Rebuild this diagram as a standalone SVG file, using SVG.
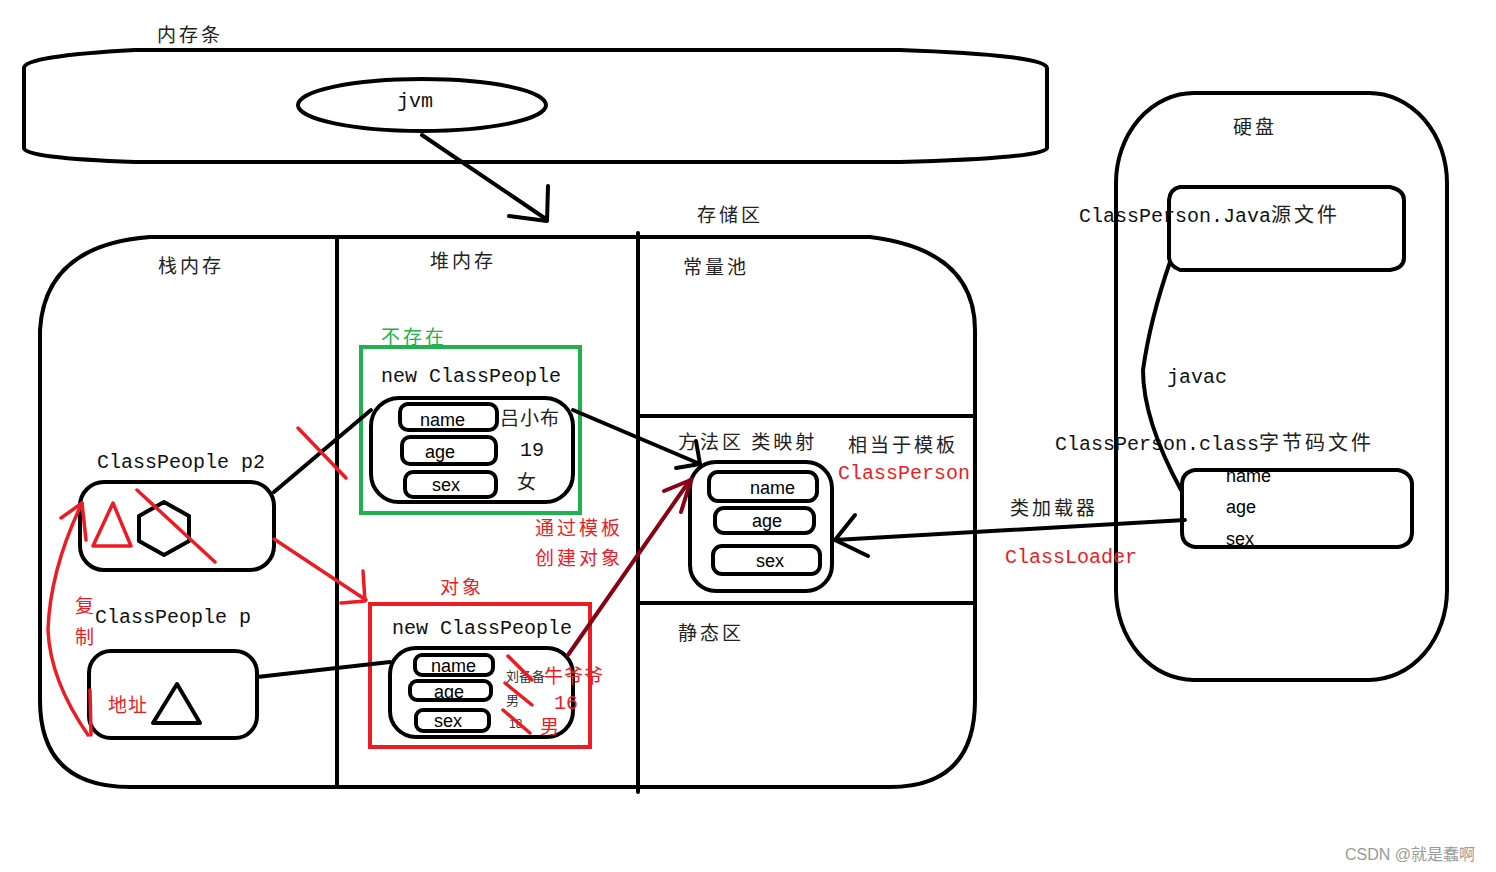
<svg xmlns="http://www.w3.org/2000/svg" width="1496" height="872" viewBox="0 0 1496 872">
<style>
.s{fill:none;stroke:#000;stroke-width:4;stroke-linecap:round;stroke-linejoin:round}
.r{fill:none;stroke:#ed1c24;stroke-width:3.5;stroke-linecap:round;stroke-linejoin:round}
.dr{fill:none;stroke:#880015;stroke-width:4;stroke-linecap:round}
.cn{font-family:"Noto Sans CJK SC","Liberation Serif",serif;font-size:19px;fill:#222;letter-spacing:3px}
.mo{font-family:"Liberation Mono","DejaVu Sans Mono",monospace;font-size:20px;fill:#111}
.sa{font-family:"Liberation Sans",Arial,sans-serif;font-size:18px;fill:#000}
.red{fill:#ed1c24}
</style>
<rect width="1496" height="872" fill="#fff"/>
<g id="memory-bar">
<path class="s" d="M135,50 L900,50 Q1045,55 1047,68 L1047,148 Q1045,158 900,162 L135,162 Q24,158 24,148 L24,68 Q24,56 135,50 Z"/>
<text class="cn" x="157" y="42">内存条</text>
</g>
<g id="jvm">
<ellipse class="s" cx="422" cy="105" rx="124" ry="26"/>
<text class="mo" x="397" y="107" font-size="18">jvm</text>
</g>
<g id="storage">
<path class="s" d="M150,237 L870,237 Q975,250 975,330 L975,700 Q975,787 890,787 L130,787 Q40,787 40,700 L40,330 Q45,245 150,237 Z"/>
<line class="s" x1="337" y1="237" x2="337" y2="787"/>
<line class="s" x1="638" y1="233" x2="638" y2="792"/>
<line class="s" x1="638" y1="416" x2="975" y2="416"/>
<line class="s" x1="638" y1="603" x2="975" y2="603"/>
<text class="cn" x="697" y="222">存储区</text>
<text class="cn" x="158" y="273">栈内存</text>
<text class="cn" x="430" y="268">堆内存</text>
<text class="cn" x="683" y="274">常量池</text>
<text class="cn" x="678" y="449">方法区 类映射</text>
<text class="cn" x="848" y="452">相当于模板</text>
<text class="mo red" x="838" y="479">ClassPerson</text>
<text class="cn" x="678" y="640">静态区</text>
</g>
<g id="heap-green">
<rect x="361" y="347" width="219" height="166" fill="none" stroke="#22b14c" stroke-width="4"/>
<text class="cn" x="381" y="344" style="fill:#22b14c">不存在</text>
<text class="mo" x="381" y="382">new ClassPeople</text>
<rect class="s" x="371" y="398" width="202" height="104" rx="28"/>
<rect class="s" x="400" y="404" width="97" height="26" rx="8"/>
<rect class="s" x="402" y="437" width="94" height="27" rx="8"/>
<rect class="s" x="405" y="472" width="91" height="25" rx="8"/>
<text class="sa" x="420" y="426">name</text>
<text class="sa" x="425" y="458">age</text>
<text class="sa" x="432" y="491">sex</text>
<text class="cn" x="500" y="425" style="letter-spacing:1px">吕小布</text>
<text class="mo" x="520" y="456">19</text>
<text class="cn" x="517" y="489">女</text>
</g>
<g id="heap-red">
<rect x="370" y="604" width="220" height="143" fill="none" stroke="#ed1c24" stroke-width="4"/>
<text class="cn red" x="440" y="594">对象</text>
<text class="mo" x="392" y="634">new ClassPeople</text>
<rect class="s" x="390" y="648" width="183" height="89" rx="26"/>
<rect class="s" x="415" y="655" width="78" height="20" rx="7"/>
<rect class="s" x="410" y="681" width="81" height="19" rx="7"/>
<rect class="s" x="416" y="710" width="73" height="21" rx="7"/>
<text class="sa" x="431" y="672" fill="#880015">name</text>
<text class="sa" x="434" y="698" fill="#880015">age</text>
<text class="sa" x="434" y="727" fill="#880015">sex</text>
<text x="506" y="681" font-family="Noto Sans CJK SC,sans-serif" font-size="13" fill="#333">刘备备</text>
<text x="506" y="705" font-family="Noto Sans CJK SC,sans-serif" font-size="13" fill="#333">男</text>
<text x="509" y="728" font-family="Liberation Sans,sans-serif" font-size="12" fill="#333">18</text>
<line class="r" x1="508" y1="656" x2="532" y2="680"/>
<line class="r" x1="505" y1="683" x2="532" y2="705"/>
<line class="r" x1="503" y1="710" x2="530" y2="733"/>
<text class="cn red" x="544" y="683" style="letter-spacing:1px">牛爷爷</text>
<text class="mo red" x="554" y="709">16</text>
<text class="cn red" x="540" y="734">男</text>
</g>
<g id="template-note">
<text class="cn red" x="535" y="535">通过模板</text>
<text class="cn red" x="535" y="565">创建对象</text>
</g>
<g id="p2">
<text class="mo" x="97" y="468">ClassPeople p2</text>
<rect class="s" x="80" y="482" width="194" height="88" rx="24"/>
<polygon class="r" points="93,546 113,503 131,546"/>
<polygon class="s" points="164,502 189,516 189,541 164,555 139,541 139,516"/>
<line class="r" x1="137" y1="490" x2="215" y2="562"/>
</g>
<g id="p">
<text class="mo" x="95" y="623">ClassPeople p</text>
<rect class="s" x="89" y="651" width="168" height="87" rx="22"/>
<polygon class="s" points="153,723 177,684 200,723"/>
<text class="cn red" x="108" y="712" style="letter-spacing:1px">地址</text>
<text class="cn red" x="75" y="613">复</text>
<text class="cn red" x="75" y="644">制</text>
</g>
<g id="method-area-class">
<rect class="s" x="690" y="462" width="142" height="129" rx="26"/>
<rect class="s" x="709" y="472" width="108" height="29" rx="9"/>
<rect class="s" x="715" y="508" width="99" height="25" rx="9"/>
<rect class="s" x="713" y="546" width="107" height="28" rx="9"/>
<text class="sa" x="750" y="494">name</text>
<text class="sa" x="752" y="527">age</text>
<text class="sa" x="756" y="567">sex</text>
</g>
<g id="disk">
<rect class="s" x="1116" y="93" width="331" height="587" rx="78" ry="90"/>
<text class="cn" x="1233" y="134">硬盘</text>
<path class="s" d="M1180,187 L1390,187 Q1404,190 1404,200 L1404,258 Q1404,268 1390,270 L1180,270 Q1170,266 1169,258 L1169,200 Q1170,189 1180,187 Z"/>
<text class="mo" x="1079" y="222">ClassPerson.Java<tspan class="cn" style="font-size:20px">源文件</tspan></text>
<text class="mo" x="1167" y="383">javac</text>
<text class="mo" x="1055" y="450">ClassPerson.class<tspan class="cn" style="font-size:20px">字节码文件</tspan></text>
<path class="s" d="M1195,470 L1398,470 Q1412,473 1412,485 L1412,532 Q1412,545 1398,547 L1195,547 Q1182,545 1182,532 L1182,485 Q1182,472 1195,470 Z"/>
<text class="sa" x="1226" y="482">name</text>
<text class="sa" x="1226" y="513">age</text>
<text class="sa" x="1226" y="545">sex</text>
<text class="cn" x="1010" y="515">类加载器</text>
<text class="mo red" x="1005" y="563">ClassLoader</text>
</g>
<g id="connectors">
<line class="s" x1="422" y1="135" x2="546" y2="219"/>
<polyline class="s" points="548,186 547,221 509,216"/>
<line class="s" x1="274" y1="492" x2="371" y2="410"/>
<line class="r" x1="298" y1="428" x2="346" y2="478"/>
<line class="r" x1="274" y1="539" x2="366" y2="600"/>
<polyline class="r" points="363,571 365,601 341,603"/>
<line class="s" x1="257" y1="677" x2="390" y2="662"/>
<line class="s" x1="573" y1="410" x2="700" y2="464"/>
<polyline class="s" points="696,441 700,464 676,468"/>
<line class="dr" x1="568" y1="655" x2="690" y2="480"/>
<polyline class="dr" points="664,491 691,480 681,512"/>
<line class="s" x1="1185" y1="520" x2="835" y2="540"/>
<polyline class="s" points="855,515 835,540 868,556"/>
<path class="s" d="M1170,262 Q1150,320 1143,370 Q1143,420 1181,490"/>
<path class="r" d="M88,735 Q50,680 48,630 Q50,570 82,503"/>
<polyline class="r" points="61,518 82,503 86,540"/>
<line class="r" x1="90" y1="690" x2="91" y2="735"/>
</g>
<text x="1345" y="860" font-family="Liberation Sans,Noto Sans CJK SC,sans-serif" font-size="16" fill="#9a9a9a">CSDN @就是蠢啊</text>
</svg>
